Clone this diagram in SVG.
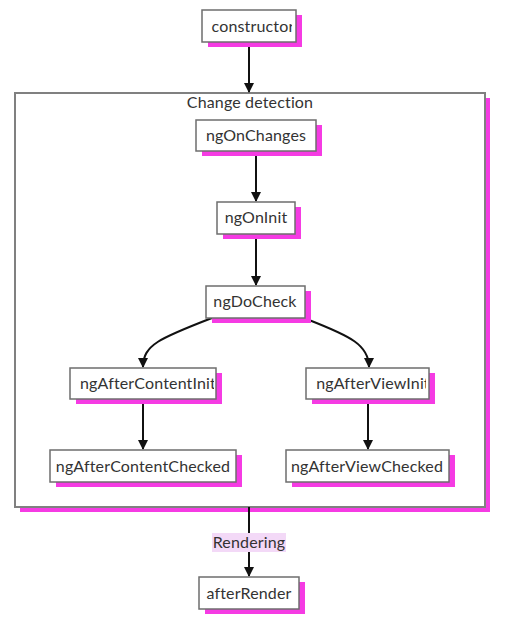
<svg xmlns="http://www.w3.org/2000/svg" width="506" height="641" viewBox="0 0 506 641">
<style>
.shadow{fill:#f53be3;}
.box{fill:#fff;stroke:#6e6e6e;stroke-width:1.5;}
.cluster{fill:#fff;stroke:#808080;stroke-width:2;}
.lbl{font-family:Lato,"Liberation Sans",sans-serif;font-size:16px;letter-spacing:0.15px;fill:#333;text-anchor:middle;}
.edge{fill:none;stroke:#111;stroke-width:2;}
</style>
<defs>
<marker id="arr" viewBox="0 0 10 10" refX="9" refY="5" markerWidth="10" markerHeight="10" markerUnits="userSpaceOnUse" orient="auto">
<path d="M0,0 L10,5 L0,10 z" fill="#111"/>
</marker>
<clipPath id="c1"><rect x="202" y="10" width="90" height="32"/></clipPath>
<clipPath id="c2"><rect x="70" y="368" width="144" height="31"/></clipPath>
<clipPath id="c3"><rect x="306" y="368" width="120" height="31"/></clipPath>
</defs>
<g id="cluster-change-detection">
<rect class="shadow" x="20" y="98" width="470" height="414"/>
<rect class="cluster" x="15" y="93" width="470" height="414"/>
<text class="lbl" x="250" y="108">Change detection</text>
</g>
<g id="connectors">
<path class="edge" d="M249,42 V92" marker-end="url(#arr)"/>
<path class="edge" d="M256,151 V201" marker-end="url(#arr)"/>
<path class="edge" d="M256,234 V285" marker-end="url(#arr)"/>
<path class="edge" d="M212,318 C160,338 143,345 143,367" marker-end="url(#arr)"/>
<path class="edge" d="M309,320 C350,336 369,345 369,367" marker-end="url(#arr)"/>
<path class="edge" d="M143,399 V449" marker-end="url(#arr)"/>
<path class="edge" d="M368,399 V449" marker-end="url(#arr)"/>
<path class="edge" d="M249,507 V576" marker-end="url(#arr)"/>
<rect x="212" y="533" width="74" height="19" fill="#f3d9f7"/>
<text class="lbl" x="249" y="548">Rendering</text>
</g>
<g id="node-constructor">
<rect class="shadow" x="208" y="15" width="94" height="32"/>
<rect class="box" x="202" y="10" width="94" height="32"/>
<text class="lbl" x="253" y="32" clip-path="url(#c1)">constructor</text>
</g>
<g id="node-ngOnChanges">
<rect class="shadow" x="202" y="125" width="120" height="31"/>
<rect class="box" x="196" y="120" width="120" height="31"/>
<text class="lbl" x="256" y="141">ngOnChanges</text>
</g>
<g id="node-ngOnInit">
<rect class="shadow" x="223" y="207" width="78" height="32"/>
<rect class="box" x="217" y="202" width="78" height="32"/>
<text class="lbl" x="256" y="223">ngOnInit</text>
</g>
<g id="node-ngDoCheck">
<rect class="shadow" x="212" y="291" width="99" height="32"/>
<rect class="box" x="206" y="286" width="99" height="32"/>
<text class="lbl" x="255" y="307">ngDoCheck</text>
</g>
<g id="node-ngAfterContentInit">
<rect class="shadow" x="76" y="373" width="146" height="31"/>
<rect class="box" x="70" y="368" width="146" height="31"/>
<text class="lbl" x="148" y="389" clip-path="url(#c2)">ngAfterContentInit</text>
</g>
<g id="node-ngAfterViewInit">
<rect class="shadow" x="312" y="373" width="123" height="31"/>
<rect class="box" x="306" y="368" width="123" height="31"/>
<text class="lbl" x="373" y="389" clip-path="url(#c3)">ngAfterViewInit</text>
</g>
<g id="node-ngAfterContentChecked">
<rect class="shadow" x="56" y="455" width="186" height="32"/>
<rect class="box" x="50" y="450" width="186" height="32"/>
<text class="lbl" x="143" y="472">ngAfterContentChecked</text>
</g>
<g id="node-ngAfterViewChecked">
<rect class="shadow" x="292" y="455" width="163" height="32"/>
<rect class="box" x="286" y="450" width="163" height="32"/>
<text class="lbl" x="367" y="472">ngAfterViewChecked</text>
</g>
<g id="node-afterRender">
<rect class="shadow" x="205" y="582" width="100" height="32"/>
<rect class="box" x="199" y="577" width="100" height="32"/>
<text class="lbl" x="249" y="599">afterRender</text>
</g>
</svg>
